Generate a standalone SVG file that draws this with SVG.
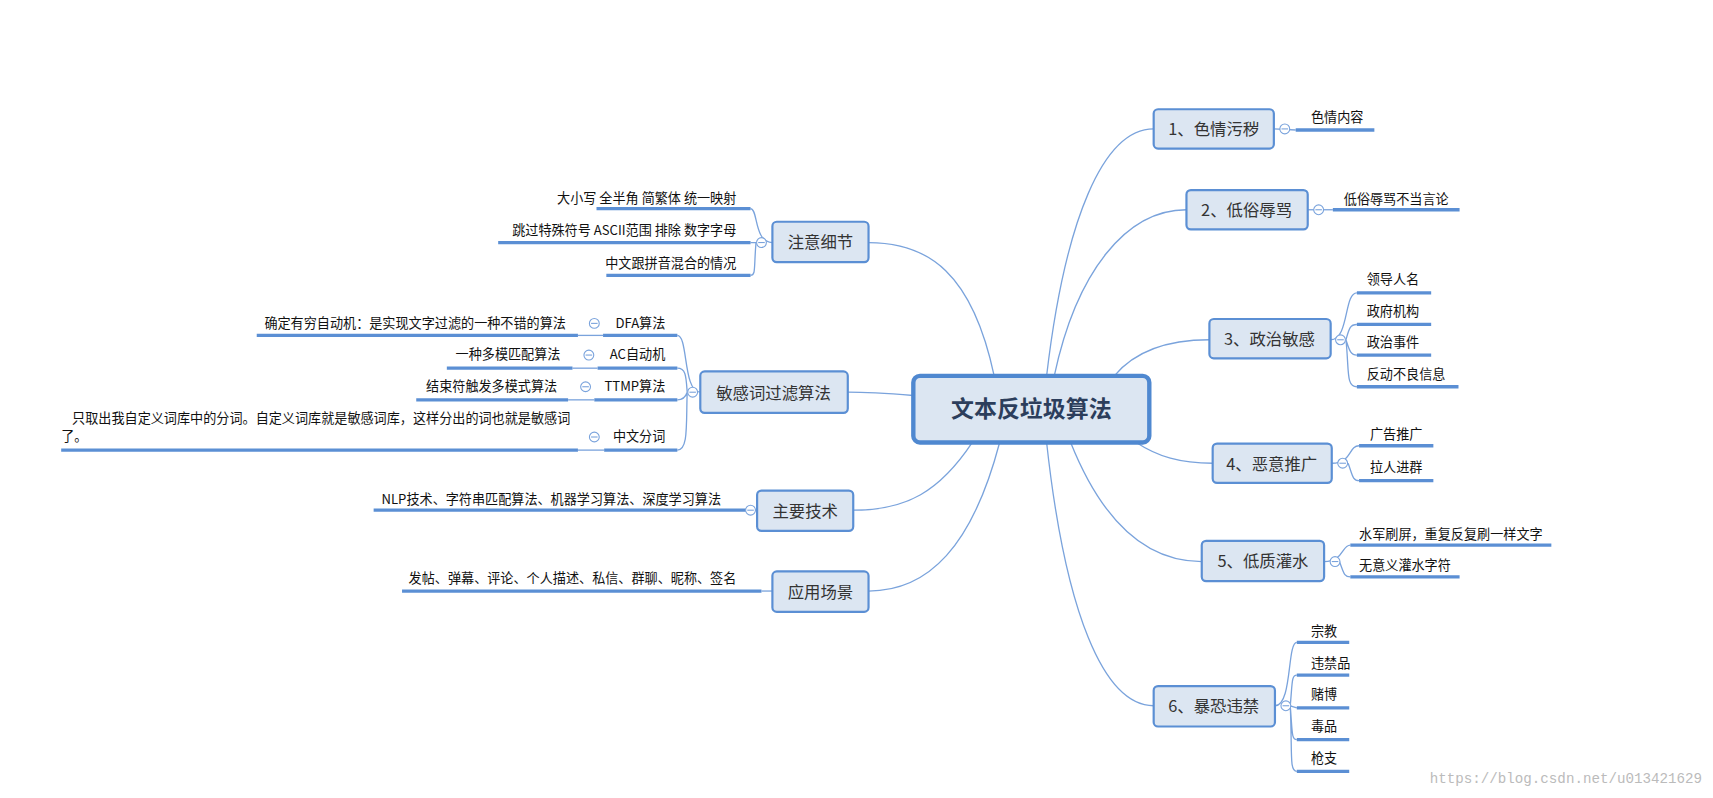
<svg xmlns="http://www.w3.org/2000/svg" width="1713" height="798" viewBox="0 0 1713 798">
<style>
.n rect{fill:#dce6f2;stroke:#5b8fd4;stroke-width:2}
.n text{font-family:"Noto Sans CJK SC","Liberation Sans",sans-serif;font-size:15px;fill:#333;text-anchor:middle}
.c{fill:none;stroke:#7aa3dc;stroke-width:1.2}
.u{stroke:#5b8fd4;stroke-width:3}
.t{font-family:"Noto Sans CJK SC","Liberation Sans",sans-serif;font-size:12px;fill:#111}
.e{text-anchor:end}
.k circle{fill:#fff;stroke:#7aa3dc;stroke-width:1}
.k line{stroke:#7aa3dc;stroke-width:1}
</style>
<rect width="1713" height="798" fill="#fff"/>
<g transform="scale(1.0925)">
<g id="connectors">
<path class="c" d="M958 344 C975 200 1010 118 1056 118"/>
<path class="c" d="M965 344 C985 250 1030 192 1086 192"/>
<path class="c" d="M1020 344 C1040 320 1070 311 1107 311"/>
<path class="c" d="M1040 405 C1060 418 1080 424 1110 424"/>
<path class="c" d="M980 405 C1010 480 1050 514 1100 514"/>
<path class="c" d="M958 405 C975 560 1010 646 1056 646"/>
<path class="c" d="M910 344 C890 250 850 222 795 222"/>
<path class="c" d="M836 362 C810 360 795 359 776 359"/>
<path class="c" d="M890 405 C860 450 830 467 781 467"/>
<path class="c" d="M915 405 C890 500 850 541 795 541"/>
<!-- right children -->
<line class="c" x1="1166" y1="118" x2="1186" y2="119"/><line class="u" x1="1186" y1="119" x2="1258" y2="119"/>
<line class="c" x1="1197" y1="192" x2="1220" y2="192"/><line class="u" x1="1220" y1="192" x2="1336" y2="192"/>
<path class="c" d="M1218 311 C1235 311 1230 268 1242 268 M1232 311 C1235 300 1236 297 1242 297 M1232 311 C1235 320 1236 325 1242 325 M1232 311 C1235 340 1232 354 1242 354"/>
<line class="u" x1="1242" y1="268" x2="1310" y2="268"/><line class="u" x1="1242" y1="297" x2="1310" y2="297"/><line class="u" x1="1242" y1="325" x2="1310" y2="325"/><line class="u" x1="1242" y1="354" x2="1335" y2="354"/>
<path class="c" d="M1219 424 C1238 424 1234 408 1244 408 M1234 424 C1238 435 1238 440 1244 440"/>
<line class="u" x1="1244" y1="408" x2="1312" y2="408"/><line class="u" x1="1244" y1="440" x2="1312" y2="440"/>
<path class="c" d="M1212 514 C1230 514 1228 499 1236 499 M1226 514 C1230 524 1230 528 1236 528"/>
<line class="u" x1="1236" y1="499" x2="1420" y2="499"/><line class="u" x1="1236" y1="528" x2="1336" y2="528"/>
<path class="c" d="M1167 646 C1183 646 1178 588 1187 588 M1181 646 C1183 625 1182 618 1187 618 M1181 646 L1187 648 M1181 646 C1183 670 1182 677 1187 677 M1181 646 C1183 690 1180 706 1187 706"/>
<line class="u" x1="1187" y1="588" x2="1235" y2="588"/><line class="u" x1="1187" y1="618" x2="1235" y2="618"/><line class="u" x1="1187" y1="648" x2="1235" y2="648"/><line class="u" x1="1187" y1="677" x2="1235" y2="677"/><line class="u" x1="1187" y1="706" x2="1235" y2="706"/>
<!-- left children -->
<path class="c" d="M707 222 C690 222 694 191 687 191 M692 222 L687 222 M692 222 C690 245 692 252 687 252"/>
<line class="u" x1="546" y1="191" x2="687" y2="191"/><line class="u" x1="456" y1="222" x2="687" y2="222"/><line class="u" x1="555" y1="252" x2="687" y2="252"/>
<path class="c" d="M641 359 C625 359 630 307 620 307 M629 359 C628 345 628 337 620 337 M629 359 C628 362 626 366 620 366 M629 359 C628 390 630 412 620 412"/>
<line class="u" x1="552" y1="307" x2="620" y2="307"/><line class="c" x1="529" y1="307" x2="552" y2="307"/><line class="u" x1="235" y1="307" x2="529" y2="307"/>
<line class="u" x1="547" y1="337" x2="620" y2="337"/><line class="c" x1="524" y1="337" x2="547" y2="337"/><line class="u" x1="409" y1="337" x2="524" y2="337"/>
<line class="u" x1="544" y1="366" x2="620" y2="366"/><line class="c" x1="520" y1="366" x2="544" y2="366"/><line class="u" x1="381" y1="366" x2="520" y2="366"/>
<line class="u" x1="553" y1="412" x2="620" y2="412"/><line class="c" x1="529" y1="412" x2="553" y2="412"/><line class="u" x1="56" y1="412" x2="529" y2="412"/>
<line class="u" x1="342" y1="467" x2="687" y2="467"/><line class="c" x1="687" y1="467" x2="693" y2="467"/>
<line class="u" x1="368" y1="541" x2="697" y2="541"/><line class="c" x1="697" y1="541" x2="707" y2="541"/>
</g>
<g id="center"><rect x="836" y="344" width="216" height="61" rx="6" fill="#dce6f2" stroke="#4f88d0" stroke-width="4"/><text x="944" y="382" text-anchor="middle" font-family="Noto Sans CJK SC,sans-serif" font-size="21" font-weight="bold" fill="#2c3e5c">文本反垃圾算法</text></g>
<g id="n1" class="n"><rect x="1056" y="100" width="110" height="36" rx="4"/><text x="1111" y="124">1、色情污秽</text></g>
<g id="n2" class="n"><rect x="1086" y="174" width="111" height="36" rx="4"/><text x="1141" y="198">2、低俗辱骂</text></g>
<g id="n3" class="n"><rect x="1107" y="292" width="111" height="36" rx="4"/><text x="1162" y="316">3、政治敏感</text></g>
<g id="n4" class="n"><rect x="1110" y="406" width="109" height="36" rx="4"/><text x="1164" y="430">4、恶意推广</text></g>
<g id="n5" class="n"><rect x="1100" y="495" width="112" height="37" rx="4"/><text x="1156" y="519">5、低质灌水</text></g>
<g id="n6" class="n"><rect x="1056" y="628" width="111" height="37" rx="4"/><text x="1111" y="652">6、暴恐违禁</text></g>
<g id="l1" class="n"><rect x="707" y="203" width="88" height="37" rx="4"/><text x="751" y="227">注意细节</text></g>
<g id="l2" class="n"><rect x="641" y="340" width="135" height="38" rx="4"/><text x="708" y="365">敏感词过滤算法</text></g>
<g id="l3" class="n"><rect x="693" y="449" width="88" height="37" rx="4"/><text x="737" y="473">主要技术</text></g>
<g id="l4" class="n"><rect x="707" y="523" width="88" height="37" rx="4"/><text x="751" y="547">应用场景</text></g>
<g class="k">
<g><circle cx="1176" cy="118" r="4.5"/><line x1="1173" y1="118" x2="1179" y2="118"/></g>
<g><circle cx="1207" cy="192" r="4.5"/><line x1="1204" y1="192" x2="1210" y2="192"/></g>
<g><circle cx="1227" cy="311" r="4.5"/><line x1="1224" y1="311" x2="1230" y2="311"/></g>
<g><circle cx="1229" cy="424" r="4.5"/><line x1="1226" y1="424" x2="1232" y2="424"/></g>
<g><circle cx="1222" cy="514" r="4.5"/><line x1="1219" y1="514" x2="1225" y2="514"/></g>
<g><circle cx="1177" cy="646" r="4.5"/><line x1="1174" y1="646" x2="1180" y2="646"/></g>
<g><circle cx="697" cy="222" r="4.5"/><line x1="694" y1="222" x2="700" y2="222"/></g>
<g><circle cx="634" cy="359" r="4.5"/><line x1="631" y1="359" x2="637" y2="359"/></g>
<g><circle cx="687" cy="467" r="4.5"/><line x1="684" y1="467" x2="690" y2="467"/></g>
<g><circle cx="544" cy="296" r="4.5"/><line x1="541" y1="296" x2="547" y2="296"/></g>
<g><circle cx="539" cy="325" r="4.5"/><line x1="536" y1="325" x2="542" y2="325"/></g>
<g><circle cx="536" cy="354" r="4.5"/><line x1="533" y1="354" x2="539" y2="354"/></g>
<g><circle cx="544" cy="400" r="4.5"/><line x1="541" y1="400" x2="547" y2="400"/></g>
</g>
<g id="texts">
<text class="t" x="1200" y="112">色情内容</text>
<text class="t" x="1230" y="187">低俗辱骂不当言论</text>
<text class="t" x="1251" y="260">领导人名</text>
<text class="t" x="1251" y="289">政府机构</text>
<text class="t" x="1251" y="318">政治事件</text>
<text class="t" x="1251" y="347">反动不良信息</text>
<text class="t" x="1254" y="402">广告推广</text>
<text class="t" x="1254" y="432">拉人进群</text>
<text class="t" x="1244" y="493">水军刷屏，重复反复刷一样文字</text>
<text class="t" x="1244" y="522">无意义灌水字符</text>
<text class="t" x="1200" y="582">宗教</text>
<text class="t" x="1200" y="611">违禁品</text>
<text class="t" x="1200" y="640">赌博</text>
<text class="t" x="1200" y="669">毒品</text>
<text class="t" x="1200" y="698">枪支</text>
<text class="t e" x="674" y="186">大小写 全半角 简繁体 统一映射</text>
<text class="t e" x="674" y="215">跳过特殊符号 ASCII范围 排除 数字字母</text>
<text class="t e" x="674" y="245">中文跟拼音混合的情况</text>
<text class="t e" x="609" y="300">DFA算法</text>
<text class="t e" x="518" y="300">确定有穷自动机：是实现文字过滤的一种不错的算法</text>
<text class="t e" x="609" y="329">AC自动机</text>
<text class="t e" x="513" y="329">一种多模匹配算法</text>
<text class="t e" x="609" y="358">TTMP算法</text>
<text class="t e" x="510" y="358">结束符触发多模式算法</text>
<text class="t e" x="609" y="404">中文分词</text>
<text class="t" x="66" y="387">只取出我自定义词库中的分词。自定义词库就是敏感词库，这样分出的词也就是敏感词</text>
<text class="t" x="56" y="404">了。</text>
<text class="t e" x="660" y="461">NLP技术、字符串匹配算法、机器学习算法、深度学习算法</text>
<text class="t e" x="674" y="534">发帖、弹幕、评论、个人描述、私信、群聊、昵称、签名</text>
<text x="1558" y="717" text-anchor="end" font-family="Liberation Mono,monospace" font-size="13" fill="#bbb">https://blog.csdn.net/u013421629</text>
</g>
</g>
</svg>
